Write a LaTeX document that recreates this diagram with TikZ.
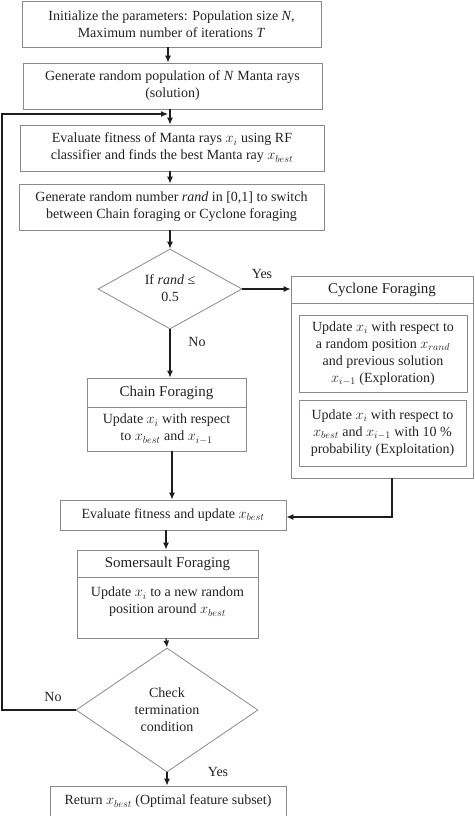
\documentclass[tikz,border=0pt]{standalone}
\usepackage{fontspec}
\setmainfont{Liberation Serif}
\usetikzlibrary{shapes.geometric,arrows.meta}
\definecolor{boxgray}{HTML}{8A8A8A}
\definecolor{txt}{HTML}{222222}
\definecolor{arr}{HTML}{1E1E1E}
\newcommand{\fs}{\fontsize{14}{17}\selectfont}
\newcommand{\ft}{\fontsize{15}{18}\selectfont}
\tikzset{
  box/.style={draw=boxgray, line width=0.8pt, inner sep=1pt, align=center, font=\fs, text=txt},
  ttl/.style={box, font=\ft},
  plain/.style={inner sep=0pt, align=center, font=\fs, text=txt},
  dia/.style={draw=boxgray, line width=0.8pt, diamond, inner sep=0pt, align=center, font=\fs, text=txt},
  conn/.style={draw=arr, line width=1.2pt, -{Latex[length=7pt,width=6pt]}},
  lab/.style={inner sep=0pt, font=\fs, text=txt}
}
\begin{document}
\begin{tikzpicture}[x=1pt,y=-1pt]
\useasboundingbox (0,0) rectangle (474,816);

\node[box, minimum width=299pt, minimum height=46pt] (init) at (171.5,24) {Initialize the parameters: Population size \textit{N},\\ Maximum number of iterations \textit{T}};
\node[box, minimum width=299pt, minimum height=46pt] (gen) at (172.5,86) {Generate random population of \textit{N} Manta rays\\ (solution)};
\node[box, minimum width=304pt, minimum height=46pt] (eval) at (172,148) {Evaluate fitness of Manta rays $x_i$ using RF\\ classifier and finds the best Manta ray $x_{best}$};
\node[box, minimum width=305pt, minimum height=46pt] (rnd) at (171.5,207) {Generate random number \textit{rand} in [0,1] to switch\\ between Chain foraging or Cyclone foraging};
\node[dia, minimum width=144pt, minimum height=80pt, aspect=1.8] (d1) at (170,289) {};
\node[plain] (d1t) at (170,288) {If \textit{rand} ≤\\ 0.5};

% Cyclone foraging
\node[ttl, minimum width=182pt, minimum height=27pt] (cyct) at (382,289.5) {Cyclone Foraging};
\node[box, minimum width=182pt, minimum height=175pt] (cycb) at (382,390.5) {};
\node[box, minimum width=168pt, minimum height=77pt] (cyc1) at (383,353.5) {Update $x_i$ with respect to\\ a random position $x_{rand}$\\ and previous solution\\ $x_{i-1}$ (Exploration)};
\node[box, minimum width=167pt, minimum height=66pt] (cyc2) at (382.5,433) {Update $x_i$ with respect to\\ $x_{best}$ and $x_{i-1}$ with 10 \%\\ probability (Exploitation)};

% Chain foraging
\node[ttl, minimum width=159pt, minimum height=29pt] (chaint) at (166.5,392.5) {Chain Foraging};
\node[box, minimum width=159pt, minimum height=44pt] (chainb) at (166.5,429) {Update $x_i$ with respect\\ to $x_{best}$ and $x_{i-1}$};

\node[box, minimum width=226pt, minimum height=30pt] (evu) at (173,515) {Evaluate fitness and update $x_{best}$};

% Somersault
\node[ttl, minimum width=181pt, minimum height=27pt] (somt) at (167.5,563.5) {Somersault Foraging};
\node[box, minimum width=181pt, minimum height=61pt] (somb) at (167.5,607.5) {};
\node[plain] (somtx) at (167.5,602) {Update $x_i$ to a new random\\ position around $x_{best}$};

\node[dia, minimum width=182pt, minimum height=124pt, aspect=1.47] (d2) at (167,710) {};
\node[plain] (d2t) at (167,710) {Check\\ termination\\ condition};

\node[box, minimum width=236pt, minimum height=31pt] (ret) at (168,801.5) {Return $x_{best}$ (Optimal feature subset)};

% connectors
\draw[conn] (init.south -| 168,0) -- (gen.north -| 168,0);
\draw[conn] (gen.south -| 170,0) -- (eval.north -| 170,0);
\draw[conn] (eval.south -| 170,0) -- (rnd.north -| 170,0);
\draw[conn] (rnd.south -| 170,0) -- (d1.north);
\draw[conn] (d1.east) -- (cyct.west |- d1.east);
\draw[conn] (d1.south) -- (chaint.north -| d1.south);
\draw[conn] (chainb.south -| 172,0) -- (evu.north -| 172,0);
\draw[conn] (cycb.south -| 392,0) -- (392,517) -- (evu.east |- 0,517);
\draw[conn] (evu.south -| 166,0) -- (somt.north -| 166,0);
\draw[conn] (somb.south -| 166,0) -- (d2.north);
\draw[conn] (d2.south) -- (ret.north -| d2.south);
\coordinate (lp1) at (2,710);
\coordinate (lp2) at (2,114);
\coordinate (lp3) at (168,114);
\draw[conn] (d2.west) -- (lp1) -- (lp2) -- (lp3);

\node[lab] (yes1) at (262,274) {Yes};
\node[lab] (no1) at (197,342) {No};
\node[lab] (no2) at (53,697) {No};
\node[lab] (yes2) at (218,772) {Yes};
\end{tikzpicture}
\end{document}
